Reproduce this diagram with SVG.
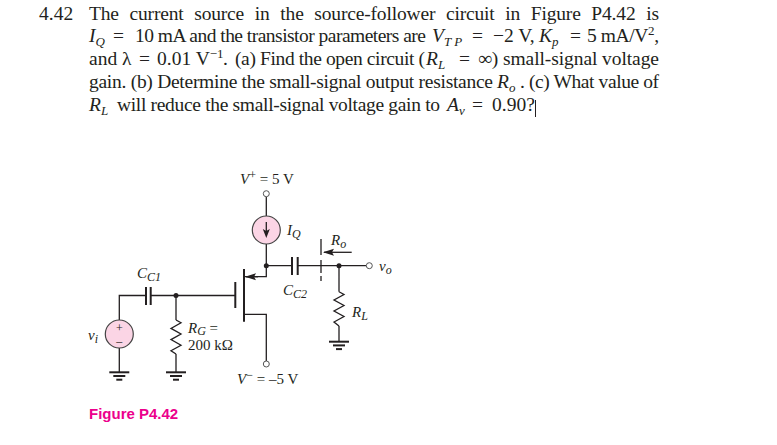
<svg xmlns="http://www.w3.org/2000/svg" width="777" height="445" viewBox="0 0 777 445">
<style>
text{font-family:"Liberation Serif","Times New Roman",serif;fill:#231f20}
.b{font-size:19.5px}
.l{font-size:15px}
.ls{font-size:12px}
.s{font-size:13px}
.i{font-style:italic}
.w{fill:none;stroke:#231f20;stroke-width:1.3}
.p{fill:none;stroke:#231f20;stroke-width:2}
.t{fill:#fff;stroke:#555;stroke-width:1}
.d{fill:#231f20}
.src{fill:#fbd5e5;stroke:#444;stroke-width:1.2}
.fig{font-family:"Liberation Sans",Arial,sans-serif;font-weight:700;font-size:15px;fill:#ec008c}
</style>
<defs>
<g id="gnd"><path class="p" d="M-10 0H10"/><path class="p" d="M-6 3.7H6" stroke-width="1.600"/><path class="p" d="M-3 7.400H3"/></g>
<marker id="ah" markerWidth="12" markerHeight="8" refX="10" refY="4" orient="auto" markerUnits="userSpaceOnUse"><path class="d" d="M11 4L0 0.500L2 4L0 7.500Z"/></marker>
</defs>
<rect width="777" height="445" fill="#fff"/>
<g id="problem-text">
<text class="b" x="39" y="19.5">4.42</text>
<text class="b" x="89" y="19.5" textLength="570" word-spacing="6">The current source in the source-follower circuit in Figure P4.42 is</text>
<text class="b i" x="89" y="42">I<tspan class="s" dy="4">Q</tspan></text>
<text class="b" x="113" y="42">=</text>
<text class="b" x="135" y="42" textLength="291">10 mA and the transistor parameters are</text>
<text class="b i" x="432" y="42">V<tspan class="s" dy="4">T P</tspan></text>
<text class="b" x="472" y="42">=</text>
<text class="b" x="493" y="42">−2 V,</text>
<text class="b i" x="539" y="42">K<tspan class="s" dy="4">p</tspan></text>
<text class="b" x="570" y="42">=</text>
<text class="b" x="587" y="42" textLength="72">5 mA/V<tspan class="s" dy="-7">2</tspan><tspan dy="7">,</tspan></text>
<text class="b" x="89" y="65">and λ</text>
<text class="b" x="139" y="65">=</text>
<text class="b" x="157" y="65">0.01 V<tspan class="s" dy="-7">−1</tspan></text>
<text class="b" x="223" y="65">.</text>
<text class="b" x="235" y="65" textLength="190">(a) Find the open circuit (</text>
<text class="b i" x="426" y="65">R<tspan class="s" dy="4">L</tspan></text>
<text class="b" x="459" y="65">=</text>
<text class="b" x="478" y="65" textLength="181">∞) small-signal voltage</text>
<text class="b" x="89" y="88" textLength="404">gain. (b) Determine the small-signal output resistance</text>
<text class="b i" x="497" y="88">R<tspan class="s" dy="4">o</tspan></text>
<text class="b" x="520" y="88">.</text>
<text class="b" x="529" y="88" textLength="130">(c) What value of</text>
<text class="b i" x="89" y="111">R<tspan class="s" dy="4">L</tspan></text>
<text class="b" x="117" y="111" textLength="323">will reduce the small-signal voltage gain to</text>
<text class="b i" x="447" y="111">A<tspan class="s" dy="4">v</tspan></text>
<text class="b" x="472" y="111">=</text>
<text class="b" x="492" y="111">0.90?</text>
<path d="M535.5 100V117" stroke="#231f20" stroke-width="1"/>
</g>
<g id="connectors">
<path class="w" d="M119.3 320V295.5H146M150.7 295.5H235M119.3 348V372M176 295.5V320M176 354V372"/>
<path class="w" d="M266.3 196.7V216M266.3 244V276.7H244M244 314.3H266.3V361M266.3 265.7H292M297.7 265.700H366.300M339 265.700V291.700M339 326V341.700"/>
</g>
<g id="CC1"><path class="p" d="M146 287V305M150.7 287V305"/><text class="l i" x="137" y="278">C<tspan class="ls" dy="3">C1</tspan></text></g>
<g id="vi"><circle class="src" cx="119.3" cy="334" r="14"/><text class="ls" x="119.3" y="331.500" text-anchor="middle">+</text><text class="ls" x="119.3" y="344.500" text-anchor="middle">–</text><text class="l i" x="88" y="340">v<tspan class="ls" dy="3">i</tspan></text><use href="#gnd" x="119.3" y="372.3"/></g>
<g id="RG"><path class="w" d="M176 320L181 322.800L171 328.400L181 334L171 339.600L181 345.200L171 350.800L176 354"/><circle class="d" cx="176" cy="295.500" r="2.500"/><text class="l i" x="188" y="332.500">R<tspan class="ls" dy="2">G</tspan><tspan class="l" dy="-2" font-style="normal"> =</tspan></text><text class="l" x="188" y="349.500">200 kΩ</text><use href="#gnd" x="176" y="372.3"/></g>
<g id="mosfet"><path class="p" d="M235.300 282V308"/><path class="p" d="M244 269V321.700" stroke-width="2.400"/><path class="w" d="M258 276.700H246" marker-end="url(#ah)"/></g>
<g id="Vplus"><circle class="t" cx="266.300" cy="193.700" r="3"/><text class="l" x="240" y="184"><tspan class="i">V</tspan><tspan class="ls" dy="-5">+</tspan><tspan dy="5"> = 5 V</tspan></text></g>
<g id="IQ"><circle class="src" cx="266.300" cy="230" r="14"/><path class="w" d="M266.300 222V232"/><path class="d" d="M266.300 238L262.800 229L266.300 231L269.800 229Z"/><text class="l i" x="287" y="235">I<tspan class="ls" dy="3">Q</tspan></text><circle class="d" cx="266.300" cy="265.700" r="2.500"/></g>
<g id="CC2"><path class="p" d="M292 257V275M297.700 257V275"/><text class="l i" x="283" y="295">C<tspan class="ls" dy="3">C2</tspan></text></g>
<g id="Ro"><path class="w" d="M321 239V255M321 260V273M321 276V281"/><path class="w" d="M351.700 252.300H324" marker-end="url(#ah)"/><text class="l i" x="331" y="245">R<tspan class="ls" dy="3">o</tspan></text></g>
<g id="RL"><path class="w" d="M339 291.700L344 294.500L334 300L344 305.500L334 311L344 316.500L334 322L339 326"/><circle class="d" cx="339" cy="265.700" r="2.500"/><text class="l i" x="352" y="317">R<tspan class="ls" dy="3">L</tspan></text><use href="#gnd" x="339" y="341.700"/></g>
<g id="vo"><circle class="t" cx="369.300" cy="265.700" r="3"/><text class="l i" x="379" y="271">v<tspan class="ls" dy="3">o</tspan></text></g>
<g id="Vminus"><circle class="t" cx="266.300" cy="364" r="3"/><text class="l" x="237" y="384"><tspan class="i">V</tspan><tspan class="ls" dy="-5">−</tspan><tspan dy="5"> = –5 V</tspan></text></g>
<text class="fig" x="89" y="419">Figure P4.42</text>
</svg>
